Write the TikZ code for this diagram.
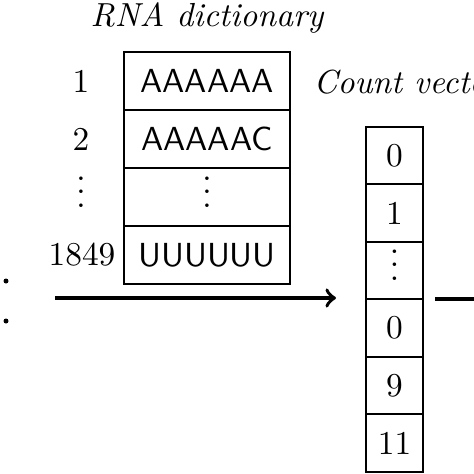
\documentclass[tikz,border=0pt]{standalone}
\usetikzlibrary{arrows}
\newcommand\mydots{\vbox{\baselineskip4pt\lineskiplimit0pt\hbox{.}\hbox{.}\hbox{.}}}
\begin{document}
\begin{tikzpicture}[x=0.3pt,y=-0.3pt,
  dictcell/.style={draw, line width=0.5pt, minimum width=49.8pt, minimum height=17.4pt, inner sep=0pt, font=\sffamily},
  veccell/.style={draw, line width=0.5pt, minimum width=17.1pt, minimum height=17.25pt, inner sep=0pt},
  idx/.style={inner sep=0pt},
  dotsnode/.style={inner sep=0pt},
  conn/.style={line width=1.1pt}]
\useasboundingbox (0,0) rectangle (474,474);
\node[font=\itshape] (title) at (207,18) {RNA dictionary};
\node[dictcell] (d1) at (207,81) {AAAAAA};
\node[dictcell] (d2) at (207,139) {AAAAAC};
\node[dictcell] (d3) at (207,197) {};
\node[dictcell] (d4) at (207,255) {UUUUUU};
\node[dotsnode] (d3dots) at (207,192) {\mydots};
\node[idx] (l1) at (81,81) {1};
\node[idx] (l2) at (81,139) {2};
\node[dotsnode] (l3) at (81,192) {\mydots};
\node[idx] (l4) at (82,255) {1849};
\node[font=\itshape, anchor=west, inner sep=0pt] (cv) at (313,82) {Count vector};
\node[veccell] (v1) at (394.5,155.5) {0};
\node[veccell] (v2) at (394.5,213) {1};
\node[veccell] (v3) at (394.5,270.5) {};
\node[dotsnode] (v3dots) at (394.5,265) {\mydots};
\node[veccell] (v4) at (394.5,328) {0};
\node[veccell] (v5) at (394.5,385.5) {9};
\node[veccell] (v6) at (394.5,443) {11};
\coordinate (a0) at (55,298);
\coordinate (a1) at (336,298);
\coordinate (b0) at (435,299);
\coordinate (b1) at (480,299);
\draw[conn,->] (a0) -- (a1);
\draw[conn] (b0) -- (b1);
\fill (6,281) circle (2.5);
\fill (6,321) circle (2.5);
\end{tikzpicture}
\end{document}
